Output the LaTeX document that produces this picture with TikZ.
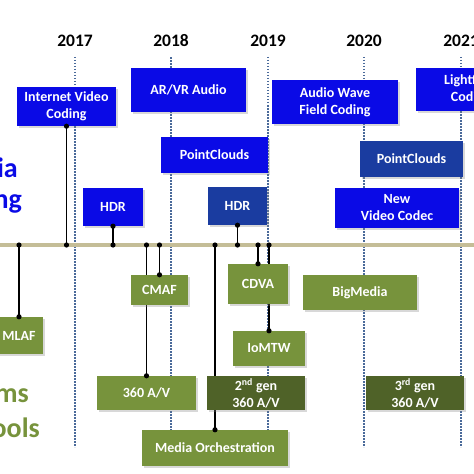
\documentclass[tikz,border=0pt]{standalone}
\usepackage{fontspec}
\setmainfont{Carlito}
\usetikzlibrary{backgrounds,shadows}
\definecolor{mblue}{HTML}{0A0AE6}
\definecolor{mdblue}{HTML}{1A3CA0}
\definecolor{mgreen}{HTML}{77933C}
\definecolor{mdgreen}{HTML}{4F6228}
\definecolor{mtan}{HTML}{C4BD97}
\definecolor{mdot}{HTML}{4A6A9A}

\begin{document}
\begin{tikzpicture}[x=1pt,y=-1pt,
		box/.style={text=white,font=\fontsize{14}{17}\selectfont\bfseries,align=center,inner sep=0pt,
			drop shadow={shadow xshift=1.5pt,shadow yshift=-1.5pt,opacity=0.3}},
		blu/.style={box,fill=mblue},
		dblu/.style={box,fill=mdblue},
		grn/.style={box,fill=mgreen},
		dgrn/.style={box,fill=mdgreen},
		sz/.style 2 args={minimum width=#1pt,minimum height=#2pt},
		year/.style={font=\fontsize{17.5}{20}\selectfont\bfseries,inner sep=0pt},
		big/.style={font=\fontsize{28}{32}\selectfont\bfseries,inner sep=0pt,anchor=base east},
		yrline/.style={draw=mdot,line width=1.4pt,dash pattern=on 1.5pt off 1.5pt,shorten <=10pt},
		bar/.style={draw=mtan,line width=4pt},
		conn/.style={draw=black,line width=1.2pt}
		]
		\useasboundingbox (0,0) rectangle (474,474);
		\coordinate (tl) at (0,245);
		\coordinate (tr) at (474,245);
		\coordinate (bot) at (0,447);

		\node[year] (y17) at (75,41) {2017};
		\node[year] (y18) at (171,41) {2018};
		\node[year] (y19) at (268,41) {2019};
		\node[year] (y20) at (364,41) {2020};
		\node[year] (y21) at (461,41) {2021};

		\node[big,text=mblue] (medA) at (18,177) {Media};
		\node[big,text=mblue] (medB) at (22,208) {Coding};
		\node[big,text=mgreen] (sysA) at (29,402) {Systems};
		\node[big,text=mgreen] (sysB) at (40,437) {and Tools};

		\node[blu,sz={99}{39}] (ivc) at (66.5,106.5) {Internet Video\\Coding};
		\node[blu,sz={115}{44}] (arvr) at (188.5,90) {AR/VR Audio};
		\node[blu,sz={107}{36}] (pcA) at (214.5,155) {PointClouds};
		\node[blu,sz={60}{38}] (hdrA) at (113,207) {HDR};
		\node[dblu,sz={59}{38}] (hdrB) at (237.5,206) {HDR};
		\node[blu,sz={126}{44}] (awfc) at (335,102) {Audio Wave\\Field Coding};
		\node[blu,sz={110}{43}] (lfc) at (471,89.5) {Lightfield\\Coding};
		\node[dblu,sz={103}{36}] (pcB) at (411.5,159) {PointClouds};
		\node[blu,sz={124}{40}] (nvc) at (397,208) {New\\Video Codec};

		\node[grn,sz={48}{37}] (mlaf) at (19,335.5) {MLAF};
		\node[grn,sz={57}{30}] (cmaf) at (159.5,290) {CMAF};
		\node[grn,sz={99}{34}] (vr) at (146.5,393) {360 A/V};
		\node[dgrn,sz={98}{34}] (genB) at (256,393) {2\textsuperscript{nd} gen\\360 A/V};
		\node[grn,sz={146}{36}] (mo) at (215,448) {Media Orchestration};
		\node[grn,sz={60}{40}] (cdva) at (258,284) {CDVA};
		\node[grn,sz={72}{35}] (iot) at (269,348.5) {IoMTW};
		\node[grn,sz={114}{35}] (bigm) at (360,292.5) {BigMedia};
		\node[dgrn,sz={98}{34}] (genC) at (415,393) {3\textsuperscript{rd} gen\\360 A/V};

		\begin{pgfonlayer}{background}
			\fill[white] (0,0) rectangle (474,474);
			\foreach \y in {y17,y18,y19,y20,y21}
				\draw[yrline] (\y.south) -- (\y.south |- bot);
			\draw[bar] (tl) -- (tr);
			\foreach \n in {ivc,hdrA,hdrB}
				\draw[conn] (\n.south) -- (\n.south |- tl);
			\foreach \n in {mlaf,cmaf,vr,mo,cdva,iot}
				\draw[conn] (\n.north |- tl) -- (\n.north);
		\end{pgfonlayer}

		\foreach \n in {ivc,hdrA,hdrB}
			\fill (\n.south) circle (2.6pt) (\n.south |- tl) circle (2.6pt);
		\foreach \n in {mlaf,cmaf,vr,mo,cdva,iot}
			\fill (\n.north) circle (2.6pt) (\n.north |- tl) circle (2.6pt);
\end{tikzpicture}
\end{document}
